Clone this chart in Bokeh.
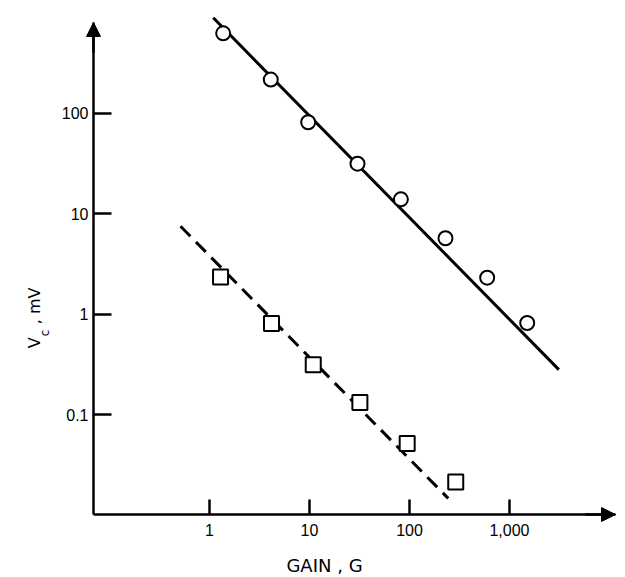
import math
from bokeh.plotting import figure
from bokeh.models import Label, Arrow, NormalHead, FixedTicker, Range1d
from bokeh.embed import file_html
from bokeh.resources import INLINE

# ---- data ----
circ_gain = [1.37, 4.1, 9.7, 30.2, 82, 229, 598, 1503]
circ_vc = [620, 215, 81, 31.4, 13.9, 5.7, 2.31, 0.82]
sq_gain = [1.29, 4.17, 10.9, 31.9, 94.8, 290]
sq_vc = [2.35, 0.81, 0.316, 0.133, 0.052, 0.0216]
solid_gain = [1.09, 3115]
solid_vc = [884, 0.282]
dash_gain = [0.513, 244]
dash_vc = [7.5, 0.0148]
x_ticks = [1, 10, 100, 1000]
x_tick_labels = ["1", "10", "100", "1,000"]
y_ticks = [0.1, 1, 10, 100]
y_tick_labels = ["0.1", "1", "10", "100"]

# ---- axis extents (data) ----
X0, X1 = 10 ** -1.16, 10 ** 4.06
Y0, Y1 = 10 ** -1.99, 10 ** 2.9
PX_DEC = 100.0   # pixels per decade, x
PY_DEC = 100.7   # pixels per decade, y
AX_L, AX_R, AX_T, AX_B = 93, 615, 22, 514   # where the axes sit on the page
W, H = 625, 577

# frame covers the whole page; axes are fixed inside it
XF0 = X0 / 10 ** (AX_L / PX_DEC)
XF1 = X1 * 10 ** ((W - AX_R) / PX_DEC)
YF0 = Y0 / 10 ** ((H - AX_B) / PY_DEC)
YF1 = Y1 * 10 ** (AX_T / PY_DEC)

FONT = "Liberation Sans"
LFONT = "DejaVu Sans"

p = figure(width=W, height=H, x_axis_type="log", y_axis_type="log",
           x_range=Range1d(XF0, XF1), y_range=Range1d(YF0, YF1),
           output_backend="svg", toolbar_location=None, min_border=0)
p.outline_line_color = None
p.grid.visible = False
p.background_fill_color = "white"
p.border_fill_color = "white"

for ax, ticks, labels, tin, stand, loc, bnds in (
        (p.xaxis[0], x_ticks, x_tick_labels, 15, 9, Y0, (X0, X1)),
        (p.yaxis[0], y_ticks, y_tick_labels, 18, 5, X0, (Y0, Y1))):
    ax.fixed_location = loc
    ax.bounds = bnds
    ax.ticker = FixedTicker(ticks=ticks, minor_ticks=[])
    ax.major_label_overrides = {t: l for t, l in zip(ticks, labels)}
    ax.major_tick_in = tin
    ax.major_tick_out = 0
    ax.minor_tick_in = 0
    ax.minor_tick_out = 0
    ax.axis_line_width = 2.5
    ax.major_tick_line_width = 2.5
    ax.axis_line_color = "black"
    ax.major_tick_line_color = "black"
    ax.major_label_text_font = FONT
    ax.major_label_text_font_size = "16px"
    ax.major_label_text_color = "black"
    ax.major_label_standoff = stand

# axis arrows
p.add_layout(Arrow(end=NormalHead(size=14, fill_color="black", line_color="black", line_width=1),
                   x_start=X0, y_start=Y1 / 2, x_end=X0, y_end=Y1,
                   line_width=2.5, line_color="black"))
p.add_layout(Arrow(end=NormalHead(size=14, fill_color="black", line_color="black", line_width=1),
                   x_start=X1 / 2, y_start=Y0, x_end=X1, y_end=Y0,
                   line_width=2.5, line_color="black"))

# fitted lines
p.line(solid_gain, solid_vc, line_width=3, line_color="black")
p.line(dash_gain, dash_vc, line_width=3, line_color="black", line_dash="14 8")

# points
p.scatter(circ_gain, circ_vc, marker="circle", size=14, line_width=2,
          line_color="black", fill_color="white")
p.scatter(sq_gain, sq_vc, marker="square", size=15, line_width=2,
          line_color="black", fill_color="white")


# page pixel -> data helpers for placing the axis titles
def dx(px):
    return XF0 * 10 ** (px / PX_DEC)


def dy(py):
    return YF1 / 10 ** (py / PY_DEC)


p.add_layout(Label(x=dx(324), y=dy(565), text="GAIN , G", text_font=LFONT,
                   text_font_size="18px", text_align="center",
                   text_baseline="alphabetic", text_color="black"))
p.add_layout(Label(x=dx(34), y=dy(348), text="V", text_font=LFONT,
                   text_font_size="16px", angle=math.pi / 2,
                   text_align="left", text_baseline="alphabetic", text_color="black"))
p.add_layout(Label(x=dx(44), y=dy(336), text="c", text_font=LFONT,
                   text_font_size="12px", angle=math.pi / 2,
                   text_align="left", text_baseline="alphabetic", text_color="black"))
p.add_layout(Label(x=dx(34), y=dy(324), text=", mV", text_font=LFONT,
                   text_font_size="16px", angle=math.pi / 2,
                   text_align="left", text_baseline="alphabetic", text_color="black"))

open("out.html", "w").write(file_html(p, INLINE))
